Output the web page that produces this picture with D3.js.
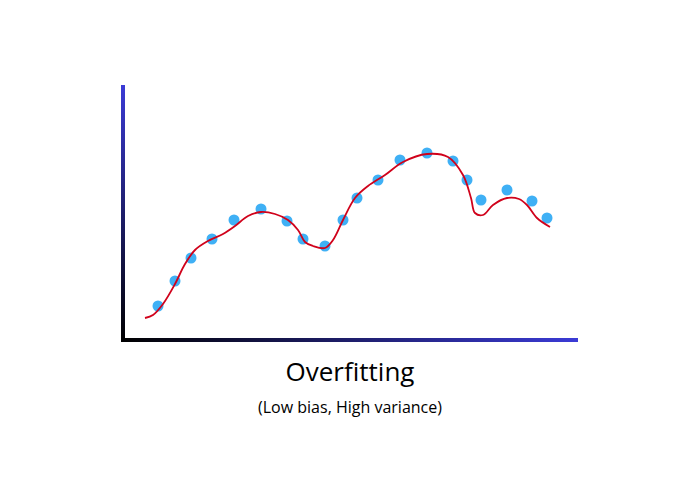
<!DOCTYPE html>
<html><head><meta charset="utf-8">
<script src="https://cdn.jsdelivr.net/npm/d3@7"></script>
<style>body{margin:0;background:#fff}</style></head>
<body><svg id="c" width="700" height="500"></svg>
<script>
const pointX = [35,52,68,89,111,138,164,180,202,220,234,255,277,304,330,344,358,384,409,424];
const pointY = [34,59,82,101,120,131,119,101,94,120,142,160,180,187,179,160,140,150,139,122];
const curveX = [22,30,40,52,62,72,85,100,112,125,138,152,165,175,182,190,202,210,220,232,245,262,280,304,325,340,348,352,360,370,384,396,404,414,427];
const curveY = [22,25,36,56,76,90,99,106,114,124,128,126,120,110,98,94,92,100,120,142,154,165,178,186,183,165,142,127,125,135,142,141,135,122,113];
const title = "Overfitting", subtitle = "(Low bias, High variance)";

const svg = d3.select("#c");
const x = d3.scaleLinear().domain([0,455]).range([123,578]);
const y = d3.scaleLinear().domain([0,255]).range([340,85]);
const defs = svg.append("defs");
const gv = defs.append("linearGradient").attr("id","gv").attr("x1",0).attr("y1",1).attr("x2",0).attr("y2",0);
gv.append("stop").attr("offset","0%").attr("stop-color","#000");
gv.append("stop").attr("offset","100%").attr("stop-color","#3b3bd6");
const gh = defs.append("linearGradient").attr("id","gh").attr("x1",0).attr("y1",0).attr("x2",1).attr("y2",0);
gh.append("stop").attr("offset","0%").attr("stop-color","#000");
gh.append("stop").attr("offset","100%").attr("stop-color","#3b3bd6");
svg.append("rect").attr("x",x(0)-2).attr("y",y(255)).attr("width",4).attr("height",y(0)-y(255)+2).attr("fill","url(#gv)");
svg.append("rect").attr("x",x(0)-2).attr("y",y(0)-2).attr("width",x(455)-x(0)+2).attr("height",4).attr("fill","url(#gh)");
svg.selectAll("circle").data(pointX).join("circle")
  .attr("cx",(d)=>x(d)).attr("cy",(d,i)=>y(pointY[i])).attr("r",5.5).attr("fill","#3fb0f5");
const line = d3.line().x(d=>x(d[0])).y(d=>y(d[1])).curve(d3.curveCatmullRom);
svg.append("path").attr("d",line(curveX.map((d,i)=>[d,curveY[i]])))
  .attr("fill","none").attr("stroke","#d0021b").attr("stroke-width",1.8);
svg.append("text").attr("x",350).attr("y",381).attr("text-anchor","middle")
  .attr("font-family","Open Sans").attr("font-size",26).attr("fill","#000").text(title);
svg.append("text").attr("x",350).attr("y",413).attr("text-anchor","middle")
  .attr("font-family","Open Sans").attr("font-size",16).attr("fill","#000").text(subtitle);
</script></body></html>
